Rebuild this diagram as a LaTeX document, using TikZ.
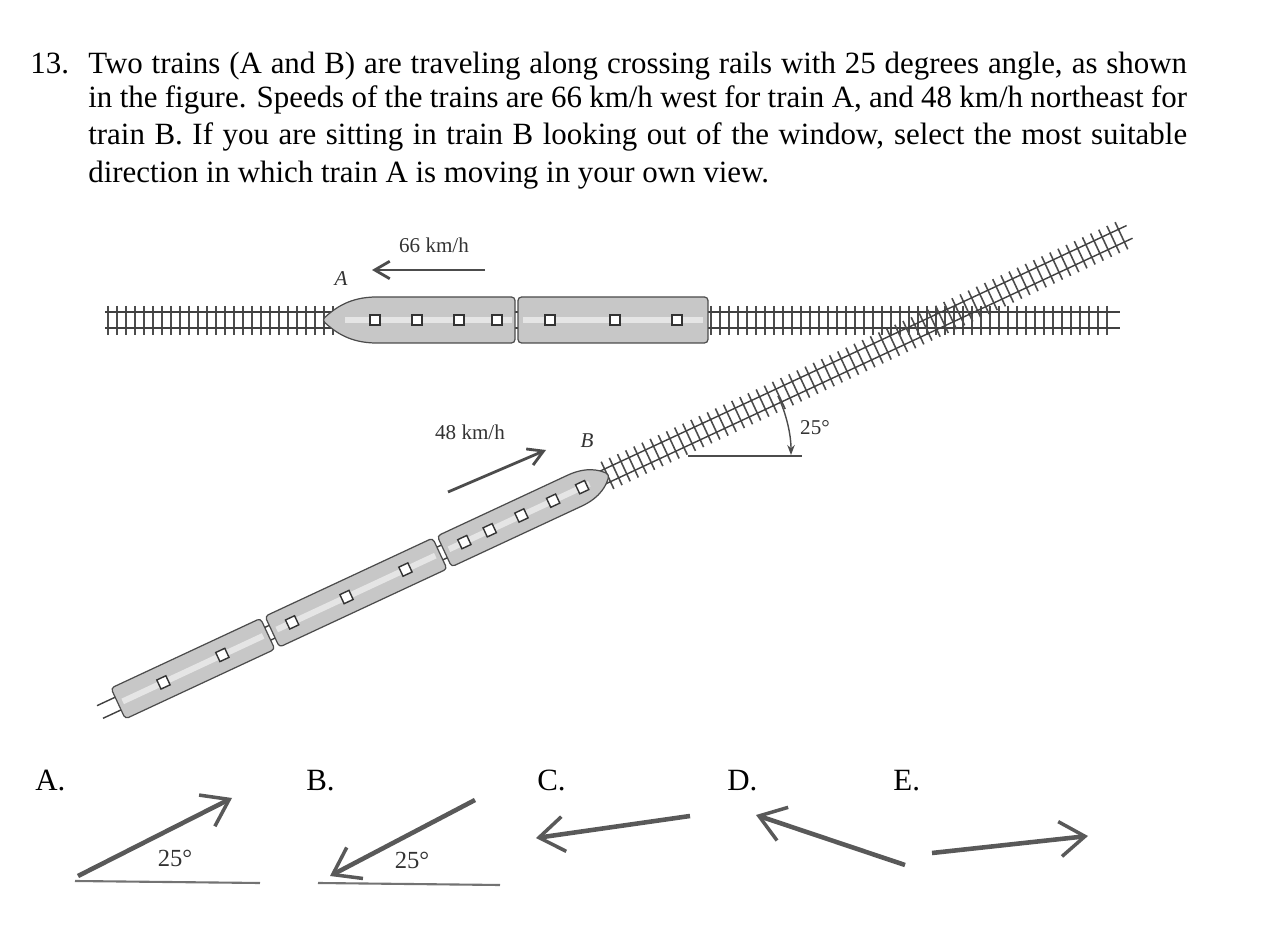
\documentclass[tikz,border=0pt]{standalone}
\usepackage{fontspec}
\setmainfont{Liberation Serif}
\usetikzlibrary{arrows.meta}
\begin{document}
\begin{tikzpicture}[x=0.02cm,y=-0.02cm,
  txt/.style={anchor=base west,inner sep=0,font=\fontsize{17.6}{19}\selectfont},
  jtxt/.style={txt,text width=21.98cm,align=justify,execute at begin node={\parfillskip=0pt}},
  lbl/.style={inner sep=0,font=\fontsize{12}{14}\selectfont,text=black!80},
  tie/.style={black!70,line width=0.9pt},
  rail/.style={black!75,line width=0.8pt},
  car/.style={draw=black!70,fill=black!22,line width=0.7pt,rounded corners=2pt},
  win/.style={draw=black!80,fill=white,line width=0.8pt,minimum size=0.2cm,inner sep=0},
  varrow/.style={black!65,line width=2.6pt,-{Straight Barb[length=5mm,width=7mm,line width=2pt]}},
  sarrow/.style={black!70,line width=1.6pt,-{Straight Barb[length=3mm,width=3.5mm]}}]
\useasboundingbox (0,0) rectangle (1276,932);
% question text
\node[txt] (n13) at (30,74) {13.};
\node[jtxt] (l1) at (88,74) {Two trains (A and B) are traveling along crossing rails with 25 degrees angle, as shown};
\node[jtxt] (l2) at (88,108) {in the figure. Speeds of the trains are 66 km/h west for train A, and 48 km/h northeast for};
\node[jtxt] (l3) at (88,145) {train B. If you are sitting in train B looking out of the window, select the most suitable};
\node[txt] (l4) at (88,183) {direction in which train A is moving in your own view.};
% horizontal track
\foreach \x in {108,117,...,1112} \draw[tie] (\x,306) -- (\x,335);
\draw[rail] (105,312) -- (1120,312);
\draw[rail] (105,328) -- (1120,328);
% angled track
\begin{scope}[shift={(100,712)},rotate=25]
  \foreach \s in {560,569,...,1130} \draw[tie] (\s,-15) -- (\s,15);
  \draw[rail] (0,-7) -- (1136,-7);
  \draw[rail] (0,7) -- (1136,7);
  \draw[car] (20,-17) -- (185,-17) -- (185,17) -- (20,17) -- cycle;
  \draw[car] (190,-17) -- (375,-17) -- (375,17) -- (190,17) -- cycle;
  \draw[car] (380,-17) -- (520,-17) .. controls (545,-17) and (555,-8) .. (562,0) .. controls (555,8) and (545,17) .. (520,17) -- (380,17) -- cycle;
  \fill[black!10] (25,-3) rectangle (180,3);
  \fill[black!10] (195,-3) rectangle (370,3);
  \fill[black!10] (385,-3) rectangle (540,3);
  \foreach \s in {70,135,212,272,337,402,430,465,500,532} \node[win,rotate=25] at (\s,0) {};
\end{scope}
% train A
\draw[car] (515,297) -- (380,297) .. controls (350,297) and (335,308) .. (322,320) .. controls (335,332) and (350,343) .. (380,343) -- (515,343) -- cycle;
\draw[car] (518,297) rectangle (708,343);
\fill[black!10] (345,317) rectangle (512,323);
\fill[black!10] (523,317) rectangle (703,323);
\foreach \x in {375,417,459,497,550,615,677} \node[win] at (\x,320) {};
% labels
\node[lbl] (v66) at (434,245) {66 km/h};
\node[lbl,font=\fontsize{12}{14}\selectfont\itshape] (la) at (341,279) {A};
\coordinate (a1) at (485,270); \coordinate (a2) at (372,270);
\draw[sarrow] (a1) -- (a2);
\node[lbl] (v48) at (470,432) {48 km/h};
\node[lbl,font=\fontsize{12}{14}\selectfont\itshape] (lb) at (587,441) {B};
\coordinate (b1) at (448,492); \coordinate (b2) at (546,450);
\draw[sarrow] (b1) -- (b2);
% angle mark
\coordinate (vx) at (651,455);
\draw[black!70,line width=0.8pt] (688,456) -- (802,456);
\draw[black!70,line width=0.8pt,-{Stealth[length=2mm]}] ([shift={(-25:140)}]vx) arc[start angle=-25,end angle=0,radius=140];
\node[lbl] (ang) at (815,428) {25°};
% answers
\node[txt] (oa) at (35,790) {A.};
\node[txt] (ob) at (306,790) {B.};
\node[txt] (oc) at (537,790) {C.};
\node[txt] (od) at (727,790) {D.};
\node[txt] (oe) at (893,790) {E.};
\draw[black!55,line width=1.2pt] (75,881) -- (260,883);
\coordinate (A1) at (78,876); \coordinate (A2) at (232,798);
\draw[varrow] (A1) -- (A2);
\node[lbl,font=\fontsize{14}{16}\selectfont] (t1) at (175,858) {25°};
\draw[black!55,line width=1.2pt] (318,883) -- (500,885);
\coordinate (B1) at (475,800); \coordinate (B2) at (330,876);
\draw[varrow] (B1) -- (B2);
\node[lbl,font=\fontsize{14}{16}\selectfont] (t2) at (412,860) {25°};
\coordinate (C1) at (690,816); \coordinate (C2) at (536,838);
\draw[varrow] (C1) -- (C2);
\coordinate (D1) at (905,865); \coordinate (D2) at (756,815);
\draw[varrow] (D1) -- (D2);
\coordinate (E1) at (932,853); \coordinate (E2) at (1088,836);
\draw[varrow] (E1) -- (E2);
\end{tikzpicture}
\end{document}
